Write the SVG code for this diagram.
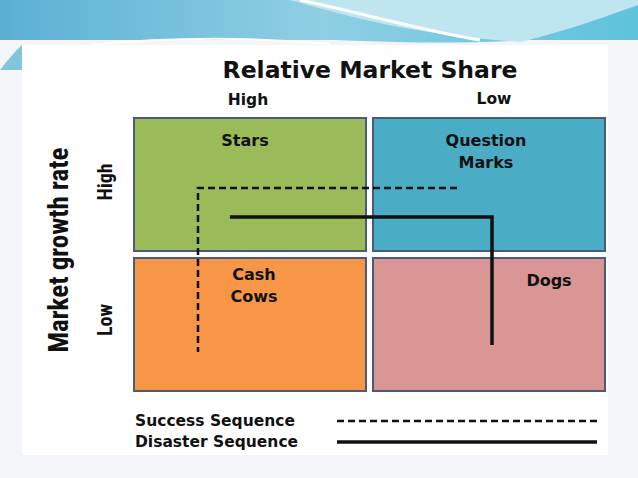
<svg xmlns="http://www.w3.org/2000/svg" width="638" height="478" viewBox="0 0 638 478">
<defs>
<style>
.t{font-family:"DejaVu Sans","Open Sans",sans-serif;font-weight:bold;fill:#111}
.c{font-family:"Liberation Sans Narrow","Roboto Condensed","Liberation Sans",sans-serif;font-weight:bold;fill:#111}
.box{stroke:#4a5a7a;stroke-width:2}
.dash{fill:none;stroke:#111;stroke-width:2.5;stroke-dasharray:7,4}
.solid{fill:none;stroke:#111;stroke-width:3.5}
</style>
<linearGradient id="sky" x1="0" y1="0" x2="1" y2="0">
<stop offset="0" stop-color="#5ab0d4"/><stop offset="0.5" stop-color="#8fcfe3"/><stop offset="1" stop-color="#5ec3dc"/>
</linearGradient>
</defs>
<rect width="638" height="478" fill="#f3f5f8"/>
<path d="M0 0H638V40H0Z" fill="url(#sky)"/>
<path d="M0 40 C80 25 180 30 300 38 C420 45 520 45 638 30 V0 H0Z" fill="url(#sky)"/>
<path d="M290 0 C360 20 420 35 520 42 C570 30 610 15 638 5 V0Z" fill="#bfe6f0"/>
<path d="M300 0 C370 15 420 30 480 40" fill="none" stroke="#fff" stroke-width="3"/>
<path d="M90 45 C160 38 240 36 330 44" fill="none" stroke="#fff" stroke-width="2"/>
<rect x="22" y="45" width="586" height="410" fill="#fff"/>
<path d="M0 70 C8 60 14 52 22 45 V70Z" fill="#7ec6dc"/>
<g id="title"><text class="t" x="370" y="78" font-size="23.5" text-anchor="middle">Relative Market Share</text>
<text class="t" x="248" y="105" font-size="15.5" text-anchor="middle">High</text>
<text class="t" x="494" y="104" font-size="15.5" text-anchor="middle">Low</text></g>
<g id="axis"><text class="c" font-size="27" text-anchor="middle" transform="translate(68,250) rotate(-90)">Market growth rate</text>
<text class="c" font-size="20" text-anchor="middle" transform="translate(112,182) rotate(-90)">High</text>
<text class="c" font-size="20" text-anchor="middle" transform="translate(112,320) rotate(-90)">Low</text></g>
<g id="stars"><rect class="box" x="134" y="118" width="232" height="133" fill="#9bbb59"/><text class="t" x="245" y="146" font-size="16" text-anchor="middle">Stars</text></g>
<g id="question"><rect class="box" x="373" y="118" width="232" height="133" fill="#4bacc6"/><text class="t" x="486" y="146" font-size="16" text-anchor="middle">Question</text><text class="t" x="486" y="168" font-size="16" text-anchor="middle">Marks</text></g>
<g id="cash"><rect class="box" x="134" y="258" width="232" height="133" fill="#f79646"/><text class="t" x="254" y="280" font-size="16" text-anchor="middle">Cash</text><text class="t" x="254" y="302" font-size="16" text-anchor="middle">Cows</text></g>
<g id="dogs"><rect class="box" x="373" y="258" width="232" height="133" fill="#d99694"/><text class="t" x="549" y="286" font-size="16" text-anchor="middle">Dogs</text></g>
<g id="connectors">
<path class="dash" d="M457 188 H198 V352"/>
<path class="solid" d="M230 217 H492 V345"/>
<path class="dash" d="M337 421 H597"/>
<path class="solid" d="M337 442 H597"/>
</g>
<g id="legend"><text class="t" x="135" y="426" font-size="15.5">Success Sequence</text>
<text class="t" x="135" y="447" font-size="15.5">Disaster Sequence</text></g>
</svg>
